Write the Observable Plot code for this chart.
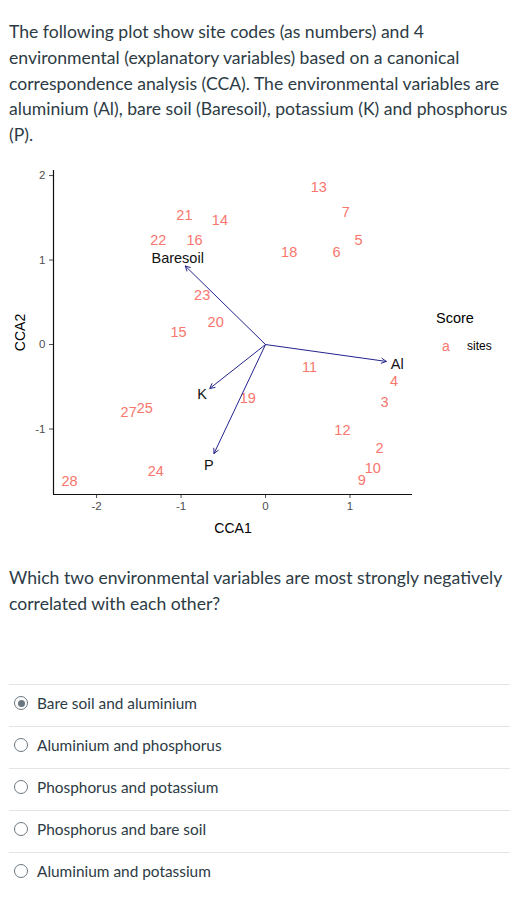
<!DOCTYPE html>
<html>
<head>
<meta charset="utf-8">
<script src="https://cdn.jsdelivr.net/npm/d3@7"></script>
<script src="https://cdn.jsdelivr.net/npm/@observablehq/plot@0.6"></script>
<style>
  html, body { margin: 0; padding: 0; background: #fff; }
  body { width: 514px; height: 900px; position: relative; overflow: hidden; font-family: Lato, "Open Sans", sans-serif; color: #2d3b45; }
  .para { position: absolute; left: 9px; font-size: 17.6px; line-height: 25.75px; white-space: nowrap; }
  #intro { top: 19px; }
  #question { top: 565px; }
  #chart { position: absolute; left: 0; top: 160px; }
  #legend { position: absolute; left: 436px; top: 308px; font-family: "Liberation Sans", Arial, sans-serif; color: #000; }
  #legend .title { font-size: 14.5px; line-height: 20px; }
  #legend .row { position: relative; height: 20px; margin-top: 8px; }
  #legend .key { position: absolute; left: 6px; top: 0; font-size: 14px; color: #F8766D; line-height: 20px; }
  #legend .lab { position: absolute; left: 31px; top: 0; font-size: 12px; line-height: 20px; }
  .sep { position: absolute; left: 9px; width: 501px; height: 1px; background: #e2e4e6; }
  .opt { position: absolute; left: 0; height: 24px; font-size: 15.4px; line-height: 24px; white-space: nowrap; }
  .opt .radio { position: absolute; left: 14px; top: 5px; width: 12px; height: 12px; border: 1px solid #6b7780; border-radius: 50%; }
  .opt .radio.on::after { content: ""; position: absolute; left: 2.5px; top: 2.5px; width: 7px; height: 7px; border-radius: 50%; background: #6b7780; }
  .opt .txt { position: absolute; left: 37px; top: 0; }
</style>
</head>
<body>
<div id="intro" class="para">The following plot show site codes (as numbers) and 4<br>environmental (explanatory variables) based on a canonical<br>correspondence analysis (CCA). The environmental variables are<br>aluminium (Al), bare soil (Baresoil), potassium (K) and phosphorus<br>(P).</div>
<div id="chart"></div>
<div id="legend"><div class="title">Score</div><div class="row"><span class="key">a</span><span class="lab">sites</span></div></div>
<div id="question" class="para">Which two environmental variables are most strongly negatively<br>correlated with each other?</div>
<div id="options"></div>
<script>
// Site scores (CCA1, CCA2)
const siteCodes = ["13","7","5","18","6","21","14","22","16","23","20","15","19","27","25","24","28","11","4","3","12","2","10","9"];
const siteCCA1 = [0.63,0.95,1.10,0.28,0.84,-0.96,-0.54,-1.27,-0.84,-0.75,-0.59,-1.03,-0.21,-1.62,-1.43,-1.30,-2.32,0.52,1.52,1.41,0.91,1.35,1.27,1.14];
const siteCCA2 = [1.86,1.56,1.23,1.09,1.09,1.53,1.47,1.23,1.23,0.58,0.26,0.15,-0.64,-0.80,-0.76,-1.50,-1.62,-0.27,-0.44,-0.69,-1.02,-1.23,-1.46,-1.61];

// Environmental vectors (arrow tips) and their label positions
const envNames = ["Al","Baresoil","K","P"];
const envCCA1 = [1.43,-0.95,-0.66,-0.61];
const envCCA2 = [-0.20,0.93,-0.52,-1.29];
const envLabelCCA1 = [1.56,-1.04,-0.75,-0.67];
const envLabelCCA2 = [-0.24,1.02,-0.59,-1.43];

const xTicks = [-2,-1,0,1];
const yTicks = [-1,0,1,2];
const xDomain = [-2.51, 1.74];
const yDomain = [-1.775, 2.06];

const answerOptions = ["Bare soil and aluminium","Aluminium and phosphorus","Phosphorus and potassium","Phosphorus and bare soil","Aluminium and potassium"];
const selectedOption = 0;

const sites = siteCodes.map((s,i) => ({code: s, x: siteCCA1[i], y: siteCCA2[i]}));
const env = envNames.map((n,i) => ({name: n, x: envCCA1[i], y: envCCA2[i], lx: envLabelCCA1[i], ly: envLabelCCA2[i]}));
const fmt = d => String(d);

const chart = Plot.plot({
  width: 430,
  height: 375,
  marginLeft: 53,
  marginRight: 18,
  marginTop: 10,
  marginBottom: 41,
  style: {fontFamily: "'Liberation Sans', Arial, sans-serif", fontSize: "11.5px", background: "transparent"},
  x: {domain: xDomain},
  y: {domain: yDomain},
  marks: [
    Plot.axisX({ticks: xTicks, tickFormat: fmt, tickSize: 4, tickPadding: 3, color: "#4d4d4d", fontSize: 11.5, label: null}),
    Plot.axisY({ticks: yTicks, tickFormat: fmt, tickSize: 4, tickPadding: 4, color: "#4d4d4d", fontSize: 11.5, label: null}),
    Plot.axisX({ticks: [], tickSize: 0, label: "CCA1", labelAnchor: "center", labelArrow: "none", labelOffset: 38, fill: "#000", fontSize: 14}),
    Plot.axisY({ticks: [], tickSize: 0, label: "CCA2", labelAnchor: "center", labelArrow: "none", labelOffset: 38, fill: "#000", fontSize: 14}),
    Plot.ruleX([xDomain[0]], {y1: yDomain[0], y2: yDomain[1], stroke: "#111", strokeWidth: 1.2}),
    Plot.ruleY([yDomain[0]], {x1: xDomain[0], x2: xDomain[1], stroke: "#111", strokeWidth: 1.2}),
    Plot.text(sites, {x: "x", y: "y", text: "code", fill: "#F8766D", fontSize: 14.5}),
    Plot.arrow(env, {x1: 0, y1: 0, x2: "x", y2: "y", stroke: "#23238c", strokeWidth: 1, headLength: 8, headAngle: 55}),
    Plot.text(env, {x: "lx", y: "ly", text: "name", fill: "#111", fontSize: 14.5})
  ]
});
document.getElementById("chart").appendChild(chart);

// answer options
const optBox = document.getElementById("options");
answerOptions.forEach((t, i) => {
  const top = 684 + i * 42;
  const sep = document.createElement("div");
  sep.className = "sep"; sep.style.top = top + "px";
  optBox.appendChild(sep);
  const o = document.createElement("div");
  o.className = "opt"; o.style.top = (top + 7) + "px";
  o.innerHTML = `<span class="radio${i === selectedOption ? " on" : ""}"></span><span class="txt"></span>`;
  o.querySelector(".txt").textContent = t;
  optBox.appendChild(o);
});
</script>
</body>
</html>
